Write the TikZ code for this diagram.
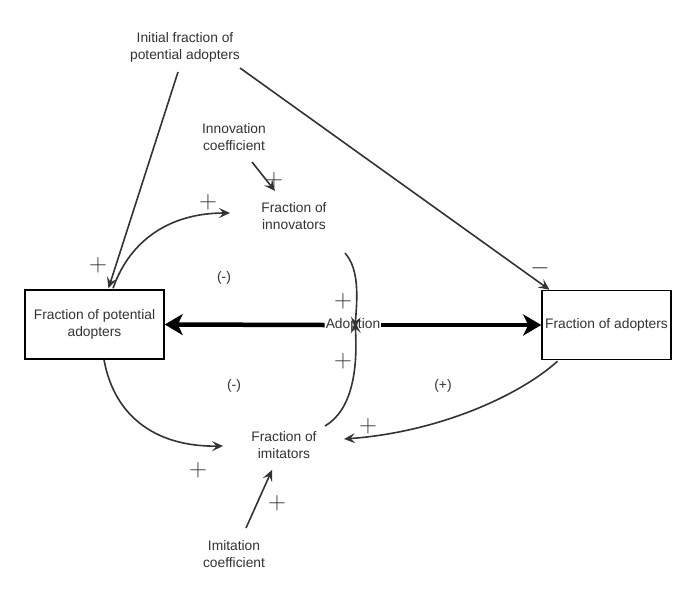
\documentclass[tikz,border=0pt]{standalone}
\usepackage{fontspec}
\newfontfamily\arial{Liberation Sans}
\usetikzlibrary{arrows.meta,calc}
\definecolor{ln}{HTML}{333333}
\begin{document}
\begin{tikzpicture}[x=1pt,y=-1pt,
  lbl/.style={align=center,font=\arial\fontsize{13.8}{17}\selectfont,text=ln,inner sep=1pt},
  stock/.style={draw=black,line width=1.5pt,minimum width=#1,minimum height=69pt,align=center,font=\arial\fontsize{13.8}{17}\selectfont,text=ln,inner sep=0pt},
  link/.style={draw=ln,line width=1.6pt,-{Stealth[length=11pt,width=10pt,inset=4.5pt]}},
  sgn/.style={font=\fontsize{24}{24}\selectfont,text=ln,inner sep=0pt},
  flow/.style={line width=4.5pt,draw=black,-{Stealth[length=18pt,width=21pt,inset=5pt]}},
]
\useasboundingbox[fill=white] (0,0) rectangle (696,600);
% nodes
\node[lbl] (init) at (185,47) {Initial fraction of\\potential adopters};
\node[lbl] (innov) at (234,137) {Innovation\\coefficient};
\node[lbl] (fi) at (294,216) {Fraction of\\innovators};
\node[lbl] (fm) at (284,445) {Fraction of\\imitators};
\node[lbl] (imc) at (234,554) {Imitation\\coefficient};
\node[stock=139pt] (pot) at (94.5,324.5) {Fraction of potential\\adopters};
\node[stock=129pt] (adp) at (606.5,325) {Fraction of adopters};
\node[lbl,fill=white,inner sep=1pt] (adopt) at (353,325) {Adoption};
% flow
\draw[flow] (adopt.west) -- (pot.east);
\draw[flow] (adopt.east) -- (adp.west);
\node[lbl,fill=white,inner sep=1pt] at (adopt) {Adoption};
% loop labels
\node[lbl] (l1) at (224,278) {(-)};
\node[lbl] (l2) at (234,386) {(-)};
\node[lbl] (l3) at (443,386) {(+)};
% links
\draw[link] ($(init.center)+(-7,25)$) -- ($(pot.north)+(14,-1)$);
\draw[link] ($(init.center)+(55,21)$) -- ($(adp.north)+(-57,0)$);
\draw[link] ($(innov.center)+(18,25)$) -- ($(fi.center)+(-19,-25)$);
\draw[link] ($(pot.north)+(18.5,-1)$) .. controls (130,240) and (170,213) .. ($(fi.center)+(-64,-3)$);
\draw[link] ($(fi.center)+(51,37)$) .. controls (360,270) and (357,300) .. ($(adopt.center)+(2,3)$);
\draw[link] ($(fm.center)+(41,-19)$) .. controls (352,410) and (358,370) .. ($(adopt.center)+(2,-3)$);
\draw[link] ($(pot.south)+(9.5,0)$) .. controls (115,420) and (160,447) .. ($(fm.center)+(-61,1)$);
\draw[link] ($(adp.south)+(-49,1)$) .. controls (520,395) and (440,432) .. ($(fm.center)+(60,-6)$);
\draw[link] ($(imc.center)+(12,-26)$) -- ($(fm.center)+(-12,25)$);
% signs
\node[sgn] (s1) at (98,265) {$+$};
\node[sgn] (s2) at (208,202) {$+$};
\node[sgn] (s3) at (274,180) {$+$};
\node[sgn] (s4) at (540,268) {$-$};
\node[sgn] (s5) at (343,301) {$+$};
\node[sgn] (s6) at (343,361) {$+$};
\node[sgn] (s7) at (198,470) {$+$};
\node[sgn] (s8) at (368,426) {$+$};
\node[sgn] (s9) at (277,503) {$+$};
\end{tikzpicture}
\end{document}
